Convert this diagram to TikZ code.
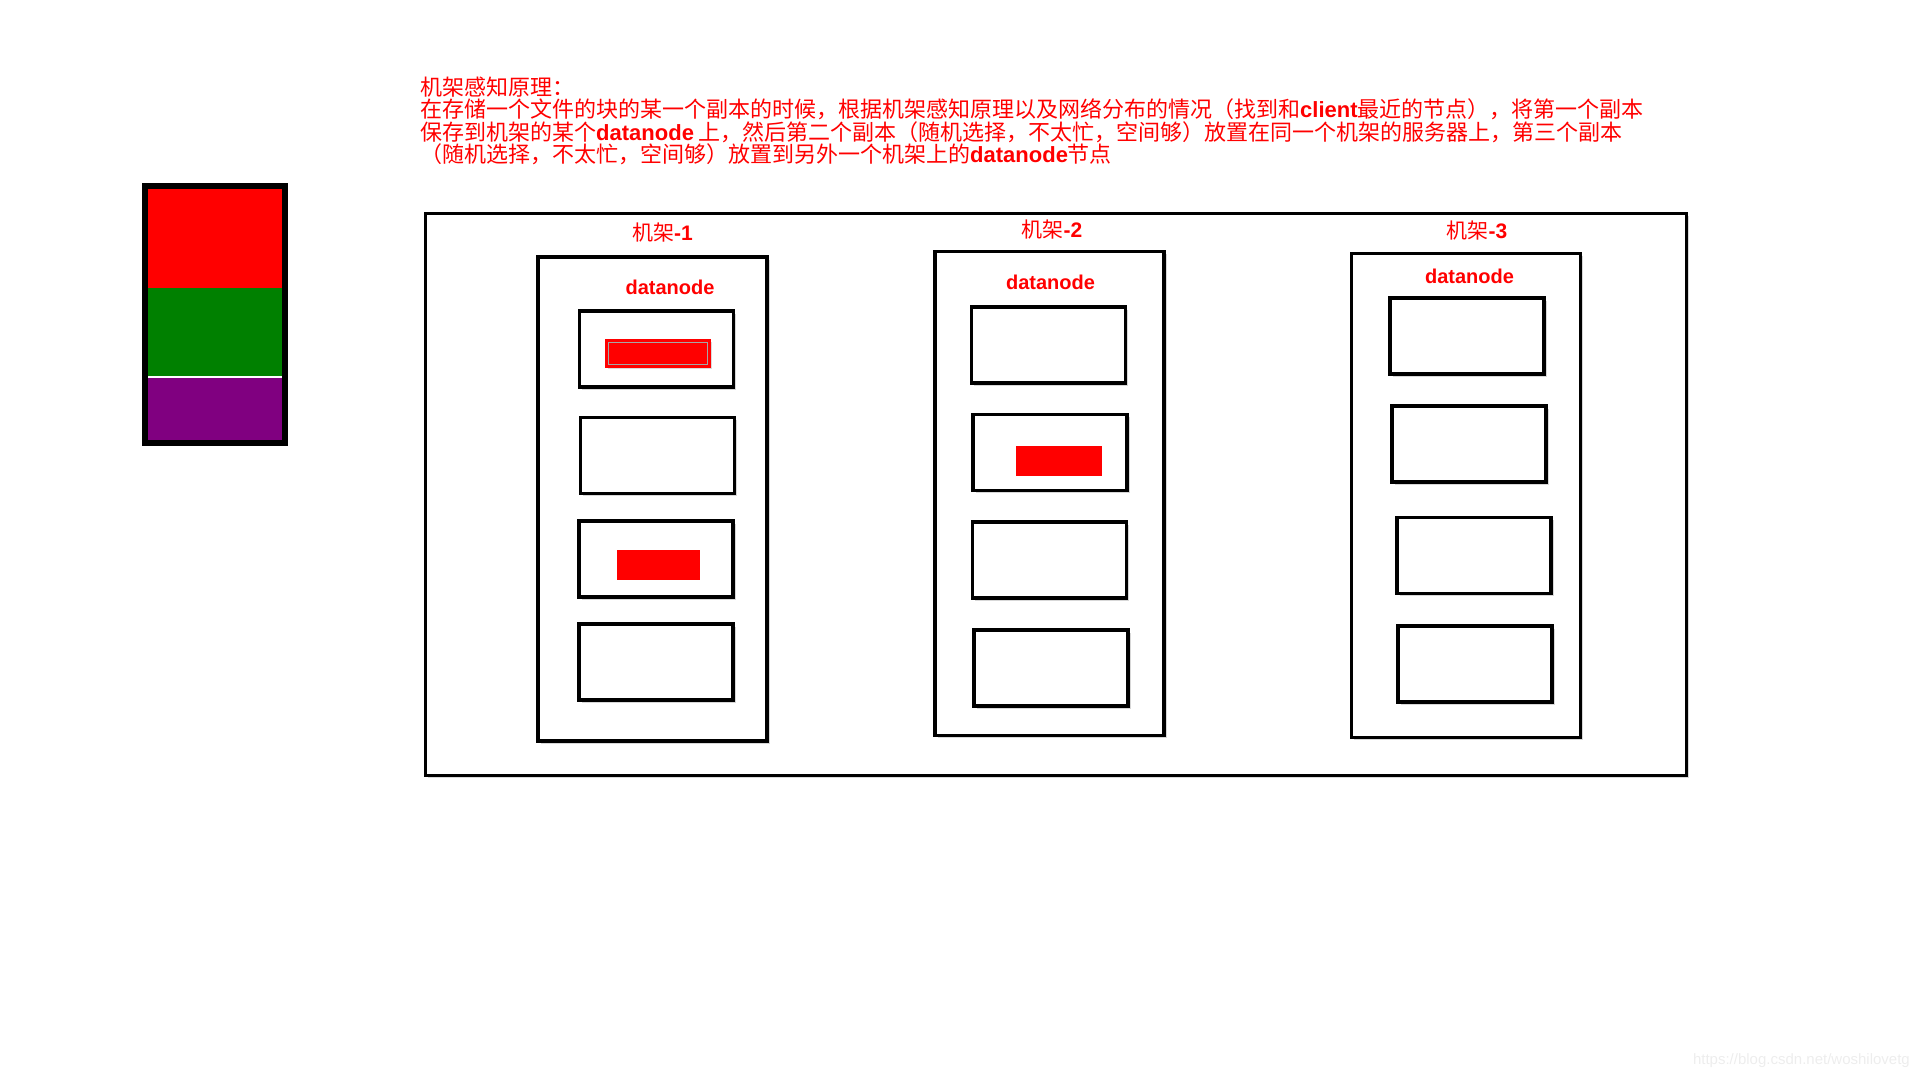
\documentclass[tikz,border=0pt]{standalone}
\usepackage{fontspec}
\setmainfont{Liberation Sans}
\newfontfamily\cjk{Noto Sans CJK SC}
\usetikzlibrary{shadows}

\definecolor{legendgreen}{HTML}{008000}
\definecolor{legendpurple}{HTML}{800080}
\newcommand\latb[1]{{\rmfamily\bfseries #1}}

\tikzset{
  frame/.style={draw=black, line width=3.5pt, fill=white, inner sep=0pt,
    drop shadow={shadow xshift=2.5pt, shadow yshift=-2.5pt, opacity=0.22, fill=black!70}},
  slot/.style={frame, minimum width=154pt, minimum height=76pt},
  rackbox/.style={frame, minimum width=229pt, minimum height=484pt},
  block/.style={fill=red, inner sep=0pt},
  racklabel/.style={text=red, inner sep=0pt, font=\fontsize{21}{24}\selectfont\cjk},
  dnlabel/.style={text=red, inner sep=0pt, font=\fontsize{20}{24}\selectfont\rmfamily\bfseries},
  note/.style={text=red, anchor=base west, inner sep=0pt, font=\fontsize{22}{22.5}\selectfont\cjk},
}

\begin{document}
\begin{tikzpicture}[x=1pt, y=-1pt]

  % 钉死画布 1920x1080
  \path[use as bounding box] (0,0) rectangle (1920,1080);

  %% ════ 说明文字 ════
  \node[note] (intro1) at (420,95) {机架感知原理：};
  \node[note] (intro2) at (420,117.5) {在存储一个文件的块的某一个副本的时候，根据机架感知原理以及网络分布的情况（找到和\latb{client}最近的节点），将第一个副本};
  \node[note] (intro3) at (420,140) {保存到机架的某个\latb{datanode} 上，然后第二个副本（随机选择，不太忙，空间够）放置在同一个机架的服务器上，第三个副本};
  \node[note] (intro4) at (420,162.5) {（随机选择，不太忙，空间够）放置到另外一个机架上的\latb{datanode}节点};

  %% ════ 左侧色块 ════
  \node[frame, minimum width=138pt, minimum height=255pt] (legend) at (215,314.5) {};
  \fill[red] (148,189) rectangle (282,288);
  \fill[legendgreen] (148,288) rectangle (282,376);
  \fill[legendpurple] (148,377.5) rectangle (282,440);
  \draw[black, line width=4pt] (legend.north west) rectangle (legend.south east);

  %% ════ 外框 + 三个机架 ════
  \node[frame, line width=3pt, minimum width=1261pt, minimum height=562pt] (cluster) at (1055.5,494) {};

  \node[rackbox] (rack1) at (652.5,499) {};
  \node[rackbox] (rack2) at (1049.5,493.5) {};
  \node[rackbox] (rack3) at (1466,495.5) {};

  \node[racklabel] (rack1lbl) at (662.5,233) {机架\latb{-1}};
  \node[racklabel] (rack2lbl) at (1052,230) {机架\latb{-2}};
  \node[racklabel] (rack3lbl) at (1477,231) {机架\latb{-3}};

  \node[dnlabel] (dn1lbl) at (670,287) {datanode};
  \node[dnlabel] (dn2lbl) at (1050.5,282) {datanode};
  \node[dnlabel] (dn3lbl) at (1469.5,276) {datanode};

  %% ════ 机架-1 的服务器 ════
  \node[slot] (r1s1) at (656.5,349) {};
  \node[slot] (r1s2) at (657.5,455.5) {};
  \node[slot] (r1s3) at (656,559) {};
  \node[slot] (r1s4) at (656,662) {};

  %% ════ 机架-2 的服务器 ════
  \node[slot] (r2s1) at (1048.5,345) {};
  \node[slot] (r2s2) at (1050,452.5) {};
  \node[slot] (r2s3) at (1049.5,560) {};
  \node[slot] (r2s4) at (1051,668) {};

  %% ════ 机架-3 的服务器 ════
  \node[slot] (r3s1) at (1467,336) {};
  \node[slot] (r3s2) at (1469,444) {};
  \node[slot] (r3s3) at (1474,555.5) {};
  \node[slot] (r3s4) at (1475,664) {};

  %% ════ 副本（红块）════
  \node[block, draw=red, line width=2pt, minimum width=104pt, minimum height=27pt,
    drop shadow={shadow xshift=2pt, shadow yshift=-2pt, opacity=0.2, fill=black!70}] (rep1) at (657.5,353) {};
  \draw[black!35, line width=0.6pt] ([shift={(3.5,3.5)}]rep1.north west) rectangle ([shift={(-3.5,-3.5)}]rep1.south east);
  \node[block, minimum width=83pt, minimum height=30pt] (rep2) at (658.5,565) {};
  \node[block, minimum width=86pt, minimum height=30pt] (rep3) at (1059,461) {};

  %% ════ 水印 ════
  \node[anchor=east, inner sep=0pt, text=black!7, font=\fontsize{15}{18}\selectfont] (mark) at (1910,1061) {https://blog.csdn.net/woshilovetg};

\end{tikzpicture}
\end{document}
